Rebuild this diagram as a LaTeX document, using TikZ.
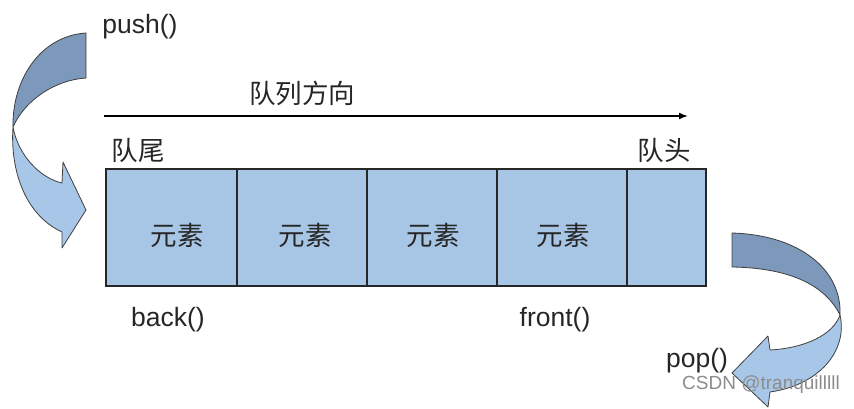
\documentclass[tikz,border=0pt]{standalone}
\usepackage{fontspec}
\setmainfont{Liberation Sans}
\newfontfamily\cjk{Noto Sans CJK SC}
\usetikzlibrary{arrows.meta}
\definecolor{cellblue}{RGB}{167,197,229}
\definecolor{ribbondark}{RGB}{124,152,186}
\definecolor{ribbonlight}{RGB}{168,198,232}
\tikzset{
  cell/.style={draw=black!85,line width=1.2pt,fill=cellblue},
  ribbon/.style={draw=black!75,line width=.8pt,line join=round},
  lbl/.style={inner sep=0pt,text=black!85,font=\fontsize{26.5}{30}\selectfont},
  zh/.style={inner sep=0pt,text=black!85,font=\fontsize{26.5}{30}\selectfont\cjk},
}

\begin{document}
\begin{tikzpicture}[x=1pt,y=-1pt]
\useasboundingbox (0,0) rectangle (854,409);
% queue cells
\foreach \i/\xa/\xb in {1/106/237,2/237/367,3/367/497,4/497/627,5/627/706}
\draw[cell] (\xa,169) rectangle (\xb,286);
\foreach \i/\x in {1/177,2/305,3/433,4/563}
\node[zh] (elem\i) at (\x,235) {元素};
% direction
\coordinate (dirA) at (104,116);
\coordinate (dirB) at (688,116);
\draw[line width=1.5pt,-{Latex[length=9pt,width=7pt]}] (dirA) -- (dirB);
\node[zh] (dir) at (302,93) {队列方向};
\node[zh] (tail) at (138,150) {队尾};
\node[zh] (head) at (664,150) {队头};
\node[lbl] (back) at (168,320) {back()};
\node[lbl] (front) at (555,320) {front()};
\node[lbl] (push) at (140,27) {push()};
\node[lbl] (pop) at (697,361) {pop()};
% push ribbon
\filldraw[ribbon,fill=ribbondark] (86,33) .. controls (40,36) and (12,80) .. (13,127) .. controls (25,100) and (55,80) .. (86,78) -- cycle;
\filldraw[ribbon,fill=ribbonlight] (13,127) .. controls (18,155) and (40,178) .. (62,183) -- (63,162) -- (86,210) -- (62,248) -- (62,232) .. controls (25,215) and (10,170) .. (13,127) -- cycle;
% pop ribbon
\filldraw[ribbon,fill=ribbondark] (732,233) .. controls (800,235) and (842,270) .. (840,315) .. controls (825,285) and (790,268) .. (732,267) -- cycle;
\filldraw[ribbon,fill=ribbonlight] (840,315) .. controls (848,350) and (820,385) .. (770,392) -- (768,407) -- (732,373) -- (768,336) -- (770,350) .. controls (805,348) and (833,335) .. (840,315) -- cycle;
\node[inner sep=0pt,font=\fontsize{19}{22}\selectfont,text=black!45] (mark) at (761,385) {CSDN @tranquilllll};
\end{tikzpicture}
\end{document}
